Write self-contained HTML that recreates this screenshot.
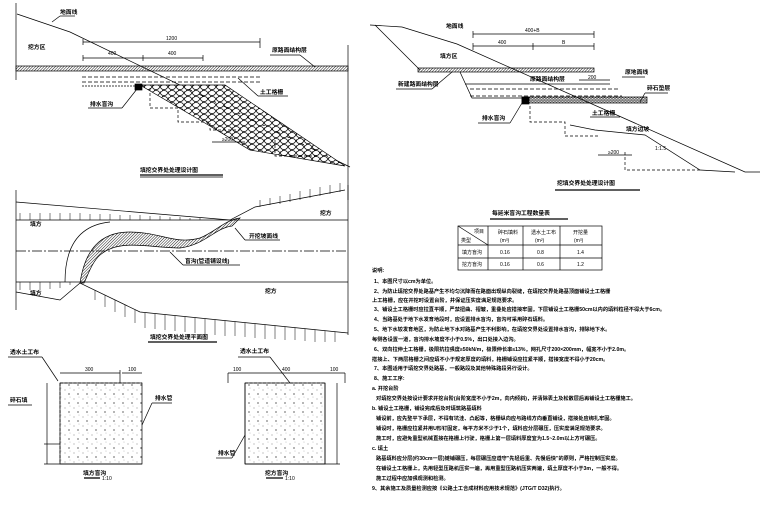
<!DOCTYPE html>
<html><head><meta charset="utf-8"><style>
html,body{margin:0;padding:0;background:#fff}
svg{display:block}
text{font-family:"Liberation Sans","Noto Sans CJK SC",sans-serif;fill:#000}
.t{font-size:5.8px;font-weight:bold}
.s{font-size:5px}
</style></head><body>
<svg width="760" height="510" viewBox="0 0 760 510" xmlns="http://www.w3.org/2000/svg" stroke="#000" fill="none" stroke-width="0.7">
<defs>
<pattern id="hat" width="2" height="2" patternUnits="userSpaceOnUse" patternTransform="rotate(45)"><line x1="0" y1="0" x2="0" y2="2" stroke="#000" stroke-width="0.9"/></pattern>
<pattern id="stone" width="8" height="6" patternUnits="userSpaceOnUse"><ellipse cx="4" cy="3" rx="3.5" ry="2.5" stroke="#000" stroke-width="0.8" fill="#fff"/><ellipse cx="0" cy="0" rx="2.5" ry="2" stroke="#000" stroke-width="0.7" fill="#fff"/></pattern>
<pattern id="dots" width="9" height="9" patternUnits="userSpaceOnUse"><circle cx="2" cy="3" r="0.4" fill="#000" stroke="none"/><circle cx="6" cy="7" r="0.6" fill="#000" stroke="none"/><circle cx="7" cy="1" r="0.3" fill="#000" stroke="none"/></pattern>
<pattern id="grav" width="3" height="2.5" patternUnits="userSpaceOnUse"><ellipse cx="1.5" cy="1.2" rx="1.3" ry="0.9" stroke="#000" stroke-width="0.5"/></pattern>
</defs>

<!-- TOP LEFT SECTION -->
<line x1="16" y1="3" x2="16" y2="80"/>
<polyline points="17,14 70,32 350,167"/>
<line x1="348" y1="45" x2="348" y2="200"/>
<rect x="16" y="66" width="332" height="5" fill="url(#hat)"/>
<line x1="83" y1="42" x2="260" y2="42"/><line x1="83" y1="39" x2="83" y2="45"/><line x1="260" y1="38" x2="260" y2="48"/>
<line x1="83" y1="58" x2="203" y2="58"/><line x1="83" y1="55" x2="83" y2="61"/><line x1="143" y1="55" x2="143" y2="61"/><line x1="203" y1="55" x2="203" y2="61"/>
<text class="s" x="166" y="40" stroke="none">1200</text>
<text class="s" x="108" y="55" stroke="none">400</text><text class="s" x="168" y="55" stroke="none">400</text>
<text class="t" x="28" y="49" stroke="none">挖方区</text>
<text class="t" x="60" y="14" stroke="none">地面线</text><line x1="52" y1="22" x2="60" y2="16"/><line x1="60" y1="16" x2="75" y2="16"/>
<text class="t" x="272" y="52" stroke="none">原路面结构层</text><line x1="270" y1="55" x2="300" y2="55"/><line x1="300" y1="55" x2="315" y2="67"/>
<polygon points="140,85 225,85 345,166 250,150 210,126" fill="url(#stone)" stroke="#000"/>
<polyline points="82,77 260,77" stroke-dasharray="4,2"/>
<polyline points="82,82 260,82" stroke-dasharray="4,2"/>
<polyline points="82,86 140,86" stroke-dasharray="2,1"/>
<rect x="135" y="84" width="7" height="6" fill="#000"/>
<polyline points="150,88 150,108 178,108 178,122 210,122 210,130 240,130" stroke-dasharray="3,2"/>
<polyline points="275,140 275,156 318,156" stroke-dasharray="3,2"/>
<line x1="212" y1="142" x2="245" y2="142"/><text class="s" x="222" y="141" stroke="none">≥200</text>
<text class="t" x="90" y="106" stroke="none">排水盲沟</text><line x1="88" y1="108" x2="122" y2="108"/><line x1="122" y1="108" x2="137" y2="89"/>
<text class="t" x="260" y="94" stroke="none">土工格栅</text><line x1="258" y1="96" x2="288" y2="96"/><line x1="258" y1="96" x2="238" y2="78"/>
<text class="t" x="140" y="172" stroke="none">填挖交界处处理设计图</text>
<line x1="140" y1="175" x2="223" y2="175" stroke-width="1.3"/><line x1="140" y1="177" x2="223" y2="177"/>

<!-- PLAN -->
<line x1="16" y1="190" x2="16" y2="310"/>
<line x1="348" y1="185" x2="348" y2="335"/>
<polyline points="16,202 230,220 255,207 345,190"/>
<line x1="16" y1="220" x2="348" y2="220"/>
<g stroke-width="0.5">
<path d="M20,220v-7M30,220v-7M40,220v-7M50,220v-7M60,220v-7M70,220v-7M80,220v-7M90,220v-6M100,220v-6M110,220v-6M120,220v-5M130,220v-5M140,220v-5M150,220v-4M160,220v-4M170,220v-3M180,220v-3M190,220v-2M200,220v-2M260,207v-7M270,205v-7M280,204v-8M290,202v-8M300,200v-9M310,198v-9M320,196v-9M330,194v-9M340,192v-9"/>
<path d="M20,282v8M30,282v8M40,282v8M50,282v7M60,282v6M70,282v3M95,290v10M105,295v12M115,300v12M125,305v12M135,310v13M145,313v15M155,314v15M165,315v15M175,316v15M185,317v15M195,318v15M205,319v15M215,320v15M225,321v15M235,322v14M245,323v14M255,324v14M265,325v14M275,326v13M285,327v13M295,328v12M305,329v12M315,330v12M325,331v11M335,332v10"/>
</g>
<line x1="16" y1="251" x2="348" y2="251" stroke-dasharray="10,2,2,2"/>
<line x1="16" y1="282" x2="348" y2="282"/>
<polyline points="16,292 60,300 80,283 140,312 348,333"/>
<path d="M80,283 C85,250 100,232 130,232 C160,232 175,245 200,238 C215,232 225,220 240,218 L232,226 C215,228 205,245 180,248 C150,248 120,238 100,255 C92,262 88,275 84,283 Z" fill="url(#hat)"/>
<path d="M65,282 C65,245 80,225 110,222" />
<text class="t" x="30" y="226" stroke="none">填方</text><text class="t" x="320" y="215" stroke="none">挖方</text>
<text class="t" x="30" y="295" stroke="none">填方</text><text class="t" x="265" y="293" stroke="none">挖方</text>
<text class="t" x="249" y="238" stroke="none">开挖坡面线</text><line x1="245" y1="240" x2="280" y2="240"/><line x1="245" y1="240" x2="235" y2="228"/>
<text class="t" x="185" y="263" stroke="none">盲沟(管道铺设线)</text><line x1="183" y1="265" x2="240" y2="265"/><line x1="183" y1="265" x2="170" y2="252"/>
<text class="t" x="150" y="339" stroke="none">填挖交界处处理平面图</text>
<line x1="148" y1="342" x2="217" y2="342" stroke-width="1.3"/>

<!-- BOXES -->
<rect x="60" y="383" width="82" height="81" fill="url(#dots)"/>
<line x1="60" y1="383" x2="142" y2="383" stroke-dasharray="3,1.5"/><line x1="60" y1="383" x2="60" y2="464" stroke-dasharray="3,1.5"/>
<line x1="44" y1="464" x2="142" y2="464"/>
<line x1="60" y1="373" x2="120" y2="373"/><line x1="122" y1="373" x2="142" y2="373"/><line x1="120" y1="370" x2="120" y2="383"/>
<line x1="47" y1="383" x2="47" y2="464"/><line x1="44" y1="444" x2="60" y2="444"/>
<text class="s" x="85" y="371" stroke="none">300</text><text class="s" x="128" y="371" stroke="none">100</text>
<text class="t" x="10" y="354" stroke="none">透水土工布</text><line x1="8" y1="357" x2="42" y2="357"/><line x1="42" y1="357" x2="58" y2="381"/>
<text class="t" x="10" y="402" stroke="none">碎石填</text><line x1="8" y1="405" x2="32" y2="405"/>
<text class="t" x="155" y="400" stroke="none">排水管</text><line x1="152" y1="403" x2="172" y2="403"/><line x1="152" y1="403" x2="142" y2="425"/>
<text class="t" x="83" y="475" stroke="none">填方盲沟</text><line x1="84" y1="478" x2="100" y2="478" stroke-width="1.3"/><text class="s" x="102" y="480" stroke="none">1:10</text>

<rect x="245" y="383" width="80" height="81" fill="url(#dots)"/>
<line x1="245" y1="383" x2="325" y2="383" stroke-dasharray="3,1.5"/>
<line x1="245" y1="383" x2="245" y2="464"/><line x1="325" y1="383" x2="325" y2="464"/>
<line x1="245" y1="464" x2="340" y2="464"/>
<line x1="228" y1="373" x2="245" y2="373"/><line x1="245" y1="373" x2="325" y2="373"/><line x1="325" y1="373" x2="345" y2="373"/>
<line x1="228" y1="373" x2="228" y2="383"/><line x1="345" y1="373" x2="345" y2="383"/>
<line x1="337" y1="383" x2="337" y2="464"/>
<text class="s" x="233" y="371" stroke="none">100</text><text class="s" x="282" y="371" stroke="none">400</text><text class="s" x="330" y="371" stroke="none">100</text>
<text class="t" x="240" y="353" stroke="none">透水土工布</text><line x1="238" y1="357" x2="270" y2="357"/><line x1="270" y1="357" x2="290" y2="383"/>
<text class="t" x="218" y="455" stroke="none">排水管</text><line x1="216" y1="458" x2="232" y2="458"/><line x1="232" y1="458" x2="245" y2="435"/>
<text class="t" x="265" y="475" stroke="none">挖方盲沟</text><line x1="266" y1="478" x2="283" y2="478" stroke-width="1.3"/><text class="s" x="285" y="480" stroke="none">1:10</text>

<!-- TOP RIGHT -->
<polyline points="370,25 402,27 457,44 745,172 760,172"/>
<line x1="375" y1="25" x2="420" y2="70"/>
<rect x="418" y="68" width="176" height="4" fill="url(#hat)"/>
<line x1="473" y1="34" x2="594" y2="34"/><line x1="473" y1="31" x2="473" y2="38"/><line x1="594" y1="31" x2="594" y2="38"/>
<line x1="473" y1="46" x2="594" y2="46"/><line x1="473" y1="43" x2="473" y2="50"/><line x1="533" y1="43" x2="533" y2="50"/><line x1="594" y1="43" x2="594" y2="50"/>
<text class="s" x="525" y="32" stroke="none">400+B</text><text class="s" x="498" y="44" stroke="none">400</text><text class="s" x="562" y="44" stroke="none">B</text>
<text class="t" x="440" y="58" stroke="none">填方区</text>
<text class="t" x="446" y="28" stroke="none">地面线</text>
<polyline points="460,72 472,98 530,98"/>
<line x1="465" y1="84" x2="610" y2="84"/>
<line x1="470" y1="89" x2="618" y2="89" stroke-dasharray="4,2"/>
<line x1="470" y1="96" x2="622" y2="96" stroke-dasharray="4,2"/>
<rect x="522" y="97" width="125" height="6" fill="url(#grav)"/>
<rect x="522" y="97" width="7" height="7" fill="#000"/>
<polyline points="530,106 530,122 565,122 565,136 600,136" stroke-dasharray="3,2"/>
<polyline points="625,152 625,170 700,170" stroke-dasharray="3,2"/>
<polyline points="570,125 595,130 645,135 700,170 735,172" />
<line x1="598" y1="155" x2="632" y2="155"/><text class="s" x="608" y="154" stroke="none">≥200</text>
<line x1="579" y1="80" x2="610" y2="80"/><text class="s" x="588" y="79" stroke="none">200</text>
<text class="t" x="530" y="81" stroke="none">原路面结构层</text>
<text class="t" x="398" y="86" stroke="none">新建路面结构层</text><line x1="396" y1="89" x2="432" y2="89"/><line x1="432" y1="89" x2="452" y2="72"/>
<text class="t" x="625" y="74" stroke="none">原地面线</text><line x1="622" y1="77" x2="645" y2="77"/>
<text class="t" x="647" y="90" stroke="none">碎石垫层</text><line x1="645" y1="93" x2="668" y2="93"/><line x1="645" y1="93" x2="640" y2="102"/>
<text class="t" x="592" y="115" stroke="none">土工格栅</text><line x1="590" y1="117" x2="620" y2="117"/>
<text class="t" x="482" y="120" stroke="none">排水盲沟</text><line x1="478" y1="123" x2="510" y2="123"/><line x1="510" y1="123" x2="522" y2="103"/>
<text class="t" x="626" y="131" stroke="none">填方边坡</text>
<text class="s" x="655" y="150" stroke="none">1:1.5</text>
<text class="t" x="557" y="185" stroke="none">挖填交界处处理设计图</text>
<line x1="555" y1="190" x2="640" y2="190" stroke-width="1.3"/>

<!-- TABLE -->
<text class="t" x="492" y="215" stroke="none">每延米盲沟工程数量表</text>
<line x1="490" y1="219" x2="568" y2="219" stroke-width="1.2"/>
<rect x="458" y="226" width="144" height="44"/>
<line x1="458" y1="245" x2="602" y2="245"/><line x1="458" y1="258" x2="602" y2="258"/>
<line x1="488" y1="226" x2="488" y2="270"/><line x1="523" y1="226" x2="523" y2="270"/><line x1="560" y1="226" x2="560" y2="270"/>
<line x1="458" y1="226" x2="488" y2="245"/>
<g class="s" stroke="none">
<text x="474" y="233">项目</text><text x="461" y="242">类型</text>
<text x="498" y="234">碎石填料</text><text x="500" y="242">(m³)</text>
<text x="531" y="234">透水土工布</text><text x="535" y="242">(m²)</text>
<text x="573" y="234">开挖量</text><text x="574" y="242">(m³)</text>
<text x="462" y="254">填方盲沟</text><text x="500" y="254">0.16</text><text x="537" y="254">0.8</text><text x="577" y="254">1.4</text>
<text x="462" y="266">挖方盲沟</text><text x="500" y="266">0.16</text><text x="537" y="266">0.6</text><text x="577" y="266">1.2</text>
</g>

<!-- NOTES -->
<g class="t" stroke="none" style="font-size:5.2px">
<text x="372" y="272">说明:</text>
<text x="374" y="283">1、本图尺寸以cm为单位。</text>
<text x="374" y="293">2、为防止填挖交界处路基产生不均匀沉降而在路面出现纵向裂缝，在填挖交界处路基顶面铺设土工格栅</text>
<text x="372" y="302">上工格栅，应在开挖时设置台阶，并保证压实度满足规范要求。</text>
<text x="374" y="311">3、铺设土工格栅时应拉直平顺，严禁扭曲、褶皱，重叠处应搭接牢固，下层铺设土工格栅50cm以内的填料粒径不得大于6cm。</text>
<text x="374" y="321">4、当路基处于地下水发育地段时，应设置排水盲沟，盲沟可采用碎石填料。</text>
<text x="374" y="331">5、地下水较发育地区，为防止地下水对路基产生不利影响，在填挖交界处设置排水盲沟，排除地下水。</text>
<text x="372" y="341">每侧各设置一道，盲沟排水坡度不小于0.5%，出口处接入边沟。</text>
<text x="374" y="351">6、双向拉伸土工格栅，极限抗拉强度≥50kN/m，极限伸长率≤13%，网孔尺寸200×200mm，幅宽不小于2.0m。</text>
<text x="372" y="361">搭接上、下两层格栅之间应填不小于规定厚度的填料，格栅铺设应拉紧平顺，搭接宽度不得小于20cm。</text>
<text x="374" y="370">7、本图适用于填挖交界处路基，一般路段及其他特殊路段另行设计。</text>
<text x="374" y="380">8、施工工序:</text>
<text x="372" y="390">a. 开挖台阶</text>
<text x="376" y="400">对填挖交界处按设计要求开挖台阶(台阶宽度不小于2m，向内倾斜)，并清除表土及松散层后再铺设土工格栅施工。</text>
<text x="372" y="410">b. 铺设土工格栅，铺设完成后及时填筑路基填料</text>
<text x="376" y="420">铺设前，应先整平下承层，不得有坑洼、凸起等，格栅纵向应与路线方向垂直铺设，搭接处应绑扎牢固。</text>
<text x="376" y="430">铺设时，格栅应拉紧并用U形钉固定，每平方米不少于1个，填料应分层碾压，压实度满足规范要求。</text>
<text x="376" y="440">施工时，应避免重型机械直接在格栅上行驶，格栅上第一层填料厚度宜为1.5~2.0m以上方可碾压。</text>
<text x="372" y="450">c. 填土</text>
<text x="376" y="460">路基填料应分层(约30cm一层)摊铺碾压，每层碾压应遵守"先轻后重、先慢后快"的原则，严格控制压实度。</text>
<text x="376" y="470">在铺设土工格栅上，先用轻型压路机压实一遍，再用重型压路机压实两遍，填土厚度不小于3m，一般不得。</text>
<text x="376" y="480">施工过程中应加强观测和检测。</text>
<text x="372" y="490">9、其余施工及质量检测应按《公路土工合成材料应用技术规范》(JTG/T D32)执行。</text>
</g>
</svg>
</body></html>
